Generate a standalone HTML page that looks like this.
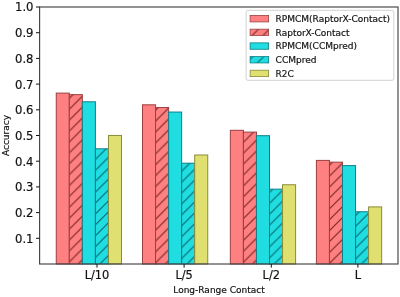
<!DOCTYPE html><html><head><meta charset="utf-8"><style>html,body{margin:0;padding:0;background:#fff}svg{display:block}text{font-family:"DejaVu Sans","Liberation Sans",sans-serif;fill:#111;stroke:#111;stroke-width:0.18px}</style></head><body>
<svg width="400" height="297" viewBox="0 0 400 297">
<defs>
<pattern id="hr" patternUnits="userSpaceOnUse" x="0" y="0" width="10.9" height="10.9"><path d="M-1 5.2 L5.2 -1 M3.2 11.9 L11.9 3.2" stroke="#742020" stroke-width="1.05" fill="none"/></pattern>
<pattern id="hc" patternUnits="userSpaceOnUse" x="0" y="0" width="10.9" height="10.9"><path d="M-1 5.2 L5.2 -1 M3.2 11.9 L11.9 3.2" stroke="#08636a" stroke-width="1.05" fill="none"/></pattern>
</defs>
<rect width="400" height="297" fill="#fff"/>
<rect x="56.25" y="93.10" width="13.05" height="170.90" fill="#ff8080"/>
<rect x="56.25" y="93.10" width="13.05" height="170.90" fill="none" stroke="#9a4040" stroke-width="1.0"/>
<rect x="69.30" y="94.65" width="13.05" height="169.35" fill="#ff8080"/>
<rect x="69.30" y="94.65" width="13.05" height="169.35" fill="url(#hr)"/>
<rect x="69.30" y="94.65" width="13.05" height="169.35" fill="none" stroke="#9a4040" stroke-width="1.0"/>
<rect x="82.35" y="101.80" width="13.05" height="162.20" fill="#1fdde0"/>
<rect x="82.35" y="101.80" width="13.05" height="162.20" fill="none" stroke="#0e7f88" stroke-width="1.0"/>
<rect x="95.40" y="148.80" width="13.05" height="115.20" fill="#1fdde0"/>
<rect x="95.40" y="148.80" width="13.05" height="115.20" fill="url(#hc)"/>
<rect x="95.40" y="148.80" width="13.05" height="115.20" fill="none" stroke="#0e7f88" stroke-width="1.0"/>
<rect x="108.45" y="135.45" width="13.05" height="128.55" fill="#e0e070"/>
<rect x="108.45" y="135.45" width="13.05" height="128.55" fill="none" stroke="#8a8a3c" stroke-width="1.0"/>
<rect x="142.50" y="104.80" width="13.05" height="159.20" fill="#ff8080"/>
<rect x="142.50" y="104.80" width="13.05" height="159.20" fill="none" stroke="#9a4040" stroke-width="1.0"/>
<rect x="155.55" y="107.50" width="13.05" height="156.50" fill="#ff8080"/>
<rect x="155.55" y="107.50" width="13.05" height="156.50" fill="url(#hr)"/>
<rect x="155.55" y="107.50" width="13.05" height="156.50" fill="none" stroke="#9a4040" stroke-width="1.0"/>
<rect x="168.60" y="112.05" width="13.05" height="151.95" fill="#1fdde0"/>
<rect x="168.60" y="112.05" width="13.05" height="151.95" fill="none" stroke="#0e7f88" stroke-width="1.0"/>
<rect x="181.65" y="163.20" width="13.05" height="100.80" fill="#1fdde0"/>
<rect x="181.65" y="163.20" width="13.05" height="100.80" fill="url(#hc)"/>
<rect x="181.65" y="163.20" width="13.05" height="100.80" fill="none" stroke="#0e7f88" stroke-width="1.0"/>
<rect x="194.70" y="155.00" width="13.05" height="109.00" fill="#e0e070"/>
<rect x="194.70" y="155.00" width="13.05" height="109.00" fill="none" stroke="#8a8a3c" stroke-width="1.0"/>
<rect x="230.35" y="130.30" width="13.05" height="133.70" fill="#ff8080"/>
<rect x="230.35" y="130.30" width="13.05" height="133.70" fill="none" stroke="#9a4040" stroke-width="1.0"/>
<rect x="243.40" y="132.10" width="13.05" height="131.90" fill="#ff8080"/>
<rect x="243.40" y="132.10" width="13.05" height="131.90" fill="url(#hr)"/>
<rect x="243.40" y="132.10" width="13.05" height="131.90" fill="none" stroke="#9a4040" stroke-width="1.0"/>
<rect x="256.45" y="135.70" width="13.05" height="128.30" fill="#1fdde0"/>
<rect x="256.45" y="135.70" width="13.05" height="128.30" fill="none" stroke="#0e7f88" stroke-width="1.0"/>
<rect x="269.50" y="189.15" width="13.05" height="74.85" fill="#1fdde0"/>
<rect x="269.50" y="189.15" width="13.05" height="74.85" fill="url(#hc)"/>
<rect x="269.50" y="189.15" width="13.05" height="74.85" fill="none" stroke="#0e7f88" stroke-width="1.0"/>
<rect x="282.55" y="184.75" width="13.05" height="79.25" fill="#e0e070"/>
<rect x="282.55" y="184.75" width="13.05" height="79.25" fill="none" stroke="#8a8a3c" stroke-width="1.0"/>
<rect x="316.40" y="160.40" width="13.05" height="103.60" fill="#ff8080"/>
<rect x="316.40" y="160.40" width="13.05" height="103.60" fill="none" stroke="#9a4040" stroke-width="1.0"/>
<rect x="329.45" y="162.15" width="13.05" height="101.85" fill="#ff8080"/>
<rect x="329.45" y="162.15" width="13.05" height="101.85" fill="url(#hr)"/>
<rect x="329.45" y="162.15" width="13.05" height="101.85" fill="none" stroke="#9a4040" stroke-width="1.0"/>
<rect x="342.50" y="165.60" width="13.05" height="98.40" fill="#1fdde0"/>
<rect x="342.50" y="165.60" width="13.05" height="98.40" fill="none" stroke="#0e7f88" stroke-width="1.0"/>
<rect x="355.55" y="211.75" width="13.05" height="52.25" fill="#1fdde0"/>
<rect x="355.55" y="211.75" width="13.05" height="52.25" fill="url(#hc)"/>
<rect x="355.55" y="211.75" width="13.05" height="52.25" fill="none" stroke="#0e7f88" stroke-width="1.0"/>
<rect x="368.60" y="206.90" width="13.05" height="57.10" fill="#e0e070"/>
<rect x="368.60" y="206.90" width="13.05" height="57.10" fill="none" stroke="#8a8a3c" stroke-width="1.0"/>
<rect x="39.6" y="7.0" width="358.4" height="257.0" fill="none" stroke="#444" stroke-width="1.15"/>
<line x1="36.0" x2="39.6" y1="238.30" y2="238.30" stroke="#111" stroke-width="1.0"/>
<text x="33.5" y="242.70" font-size="11.65" text-anchor="end">0.1</text>
<line x1="36.0" x2="39.6" y1="212.60" y2="212.60" stroke="#111" stroke-width="1.0"/>
<text x="33.5" y="217.00" font-size="11.65" text-anchor="end">0.2</text>
<line x1="36.0" x2="39.6" y1="186.90" y2="186.90" stroke="#111" stroke-width="1.0"/>
<text x="33.5" y="191.30" font-size="11.65" text-anchor="end">0.3</text>
<line x1="36.0" x2="39.6" y1="161.20" y2="161.20" stroke="#111" stroke-width="1.0"/>
<text x="33.5" y="165.60" font-size="11.65" text-anchor="end">0.4</text>
<line x1="36.0" x2="39.6" y1="135.50" y2="135.50" stroke="#111" stroke-width="1.0"/>
<text x="33.5" y="139.90" font-size="11.65" text-anchor="end">0.5</text>
<line x1="36.0" x2="39.6" y1="109.80" y2="109.80" stroke="#111" stroke-width="1.0"/>
<text x="33.5" y="114.20" font-size="11.65" text-anchor="end">0.6</text>
<line x1="36.0" x2="39.6" y1="84.10" y2="84.10" stroke="#111" stroke-width="1.0"/>
<text x="33.5" y="88.50" font-size="11.65" text-anchor="end">0.7</text>
<line x1="36.0" x2="39.6" y1="58.40" y2="58.40" stroke="#111" stroke-width="1.0"/>
<text x="33.5" y="62.80" font-size="11.65" text-anchor="end">0.8</text>
<line x1="36.0" x2="39.6" y1="32.70" y2="32.70" stroke="#111" stroke-width="1.0"/>
<text x="33.5" y="37.10" font-size="11.65" text-anchor="end">0.9</text>
<line x1="36.0" x2="39.6" y1="7.00" y2="7.00" stroke="#111" stroke-width="1.0"/>
<text x="33.5" y="11.40" font-size="11.65" text-anchor="end">1.0</text>
<line x1="97.00" x2="97.00" y1="264.0" y2="267.6" stroke="#111" stroke-width="1.0"/>
<text x="97.00" y="278.8" font-size="11.4" text-anchor="middle">L/10</text>
<line x1="184.10" x2="184.10" y1="264.0" y2="267.6" stroke="#111" stroke-width="1.0"/>
<text x="184.10" y="278.8" font-size="11.4" text-anchor="middle">L/5</text>
<line x1="271.30" x2="271.30" y1="264.0" y2="267.6" stroke="#111" stroke-width="1.0"/>
<text x="271.30" y="278.8" font-size="11.4" text-anchor="middle">L/2</text>
<line x1="357.90" x2="357.90" y1="264.0" y2="267.6" stroke="#111" stroke-width="1.0"/>
<text x="357.90" y="278.8" font-size="11.4" text-anchor="middle">L</text>
<text x="219" y="292.6" font-size="9" text-anchor="middle">Long-Range Contact</text>
<text transform="translate(9,135.5) rotate(-90)" font-size="9" text-anchor="middle">Accuracy</text>
<rect x="246.1" y="10.3" width="147.7" height="70.0" rx="1.8" fill="#fff" fill-opacity="0.8" stroke="#ccc" stroke-width="0.9"/>
<rect x="250.1" y="15.50" width="18.5" height="6.4" fill="#ff8080"/>
<rect x="250.1" y="15.50" width="18.5" height="6.4" fill="none" stroke="#9a4040" stroke-width="0.8"/>
<text x="275.6" y="21.90" font-size="9.0">RPMCM(RaptorX-Contact)</text>
<rect x="250.1" y="29.18" width="18.5" height="6.4" fill="#ff8080"/>
<rect x="250.1" y="29.18" width="18.5" height="6.4" fill="url(#hr)"/>
<rect x="250.1" y="29.18" width="18.5" height="6.4" fill="none" stroke="#9a4040" stroke-width="0.8"/>
<text x="275.6" y="35.58" font-size="9.0">RaptorX-Contact</text>
<rect x="250.1" y="42.86" width="18.5" height="6.4" fill="#1fdde0"/>
<rect x="250.1" y="42.86" width="18.5" height="6.4" fill="none" stroke="#0e7f88" stroke-width="0.8"/>
<text x="275.6" y="49.26" font-size="9.0">RPMCM(CCMpred)</text>
<rect x="250.1" y="56.54" width="18.5" height="6.4" fill="#1fdde0"/>
<rect x="250.1" y="56.54" width="18.5" height="6.4" fill="url(#hc)"/>
<rect x="250.1" y="56.54" width="18.5" height="6.4" fill="none" stroke="#0e7f88" stroke-width="0.8"/>
<text x="275.6" y="62.94" font-size="9.0">CCMpred</text>
<rect x="250.1" y="70.22" width="18.5" height="6.4" fill="#e0e070"/>
<rect x="250.1" y="70.22" width="18.5" height="6.4" fill="none" stroke="#8a8a3c" stroke-width="0.8"/>
<text x="275.6" y="76.62" font-size="9.0">R2C</text>
</svg></body></html>
